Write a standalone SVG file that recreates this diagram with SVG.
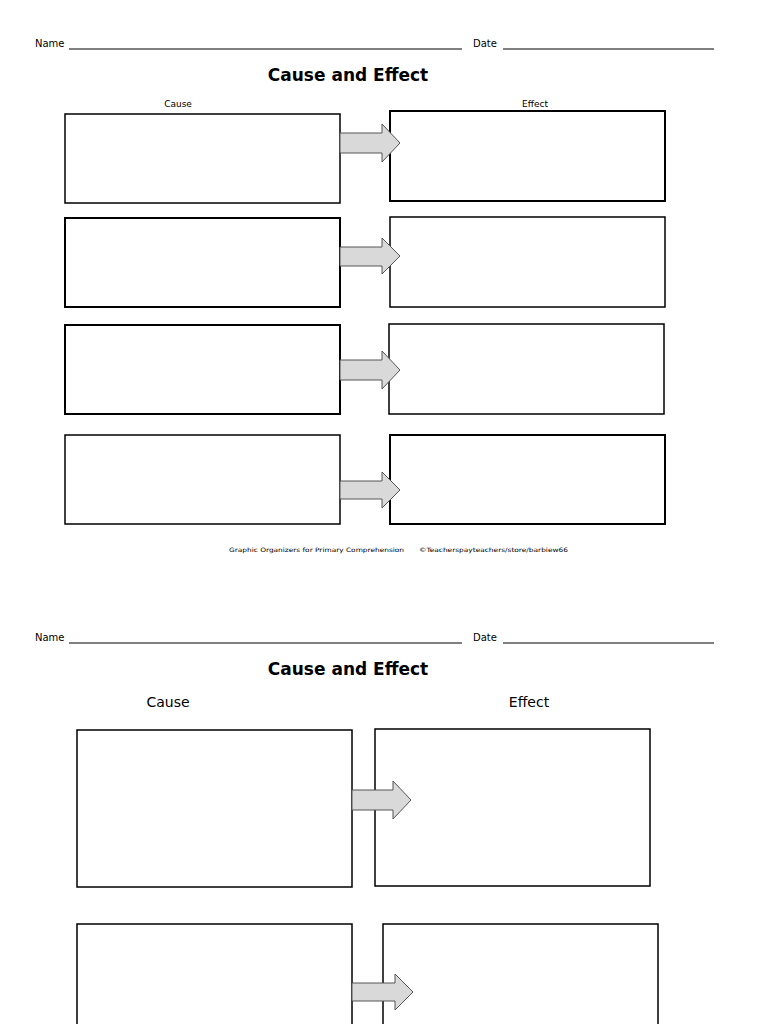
<svg xmlns="http://www.w3.org/2000/svg" width="768" height="1024" viewBox="0 0 768 1024">
<style>
.t{font-family:"Comic Sans MS","DejaVu Sans",sans-serif;fill:#000}
.bx{fill:#fff;stroke:#000;stroke-width:1.5}
.bk{fill:#fff;stroke:#000;stroke-width:2}
.ar{fill:#d9d9d9;stroke:#555;stroke-width:1}
.ln{stroke:#000;stroke-width:1}
</style>
<rect width="768" height="1024" fill="#fff"/>
<g id="header1">
<text class="t" x="35" y="47" font-size="10">Name</text><line class="ln" x1="69" y1="49" x2="462" y2="49"/>
<text class="t" x="473" y="47" font-size="10">Date</text><line class="ln" x1="503" y1="49" x2="714" y2="49"/>
<text class="t" x="348" y="81" font-size="17" font-weight="bold" text-anchor="middle">Cause and Effect</text>
<text class="t" x="178" y="107" font-size="9" text-anchor="middle">Cause</text>
<text class="t" x="535" y="107" font-size="9" text-anchor="middle">Effect</text>
</g>
<g id="c1"><rect class="bx" x="65" y="114" width="275" height="89"/></g>
<g id="e1"><rect class="bk" x="390" y="111" width="275" height="90"/></g>
<g id="c2"><rect class="bk" x="65" y="218" width="275" height="89"/></g>
<g id="e2"><rect class="bx" x="390" y="217" width="275" height="90"/></g>
<g id="c3"><rect class="bk" x="65" y="325" width="275" height="89"/></g>
<g id="e3"><rect class="bx" x="389" y="324" width="275" height="90"/></g>
<g id="c4"><rect class="bx" x="65" y="435" width="275" height="89"/></g>
<g id="e4"><rect class="bk" x="390" y="435" width="275" height="89"/></g>
<text class="t" x="229" y="552" font-size="6" textLength="175" lengthAdjust="spacingAndGlyphs">Graphic Organizers for Primary  Comprehension</text>
<text class="t" x="419" y="552" font-size="6" textLength="149" lengthAdjust="spacingAndGlyphs">©Teacherspayteachers/store/barbiew66</text>
<g id="header2">
<text class="t" x="35" y="641" font-size="10">Name</text><line class="ln" x1="69" y1="643" x2="462" y2="643"/>
<text class="t" x="473" y="641" font-size="10">Date</text><line class="ln" x1="503" y1="643" x2="714" y2="643"/>
<text class="t" x="348" y="675" font-size="17" font-weight="bold" text-anchor="middle">Cause and Effect</text>
<text class="t" x="168" y="707" font-size="14" text-anchor="middle">Cause</text>
<text class="t" x="529" y="707" font-size="14" text-anchor="middle">Effect</text>
</g>
<g id="c5"><rect class="bx" x="77" y="730" width="275" height="157"/></g>
<g id="e5"><rect class="bx" x="375" y="729" width="275" height="157"/></g>
<g id="c6"><rect class="bx" x="77" y="924" width="275" height="110"/></g>
<g id="e6"><rect class="bx" x="383" y="924" width="275" height="110"/></g>
<g id="connectors">
<path class="ar" d="M340,133H382V124L400,143L382,162V153H340Z"/>
<path class="ar" d="M340,247H382V238L400,256L382,274V266H340Z"/>
<path class="ar" d="M340,360H382V351L400,370L382,389V380H340Z"/>
<path class="ar" d="M340,481H382V472L400,490L382,508V499H340Z"/>
<path class="ar" d="M352,790H393V781L411,800L393,819V810H352Z"/>
<path class="ar" d="M352,983H395V974L413,992L395,1010V1001H352Z"/>
</g>
</svg>
